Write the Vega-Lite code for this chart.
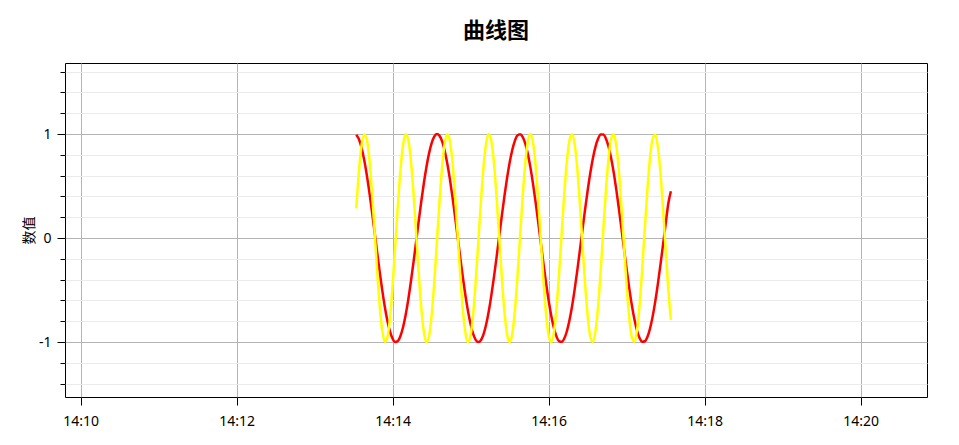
{
  "$schema": "https://vega.github.io/schema/vega-lite/v6.json",
  "width": 862,
  "height": 334,
  "autosize": {"type": "none"},
  "padding": {"left": 65, "top": 63, "right": 32, "bottom": 48},
  "background": "white",
  "title": {"text": "曲线图", "font": "Noto Sans CJK SC", "fontSize": 22, "fontWeight": "bold", "color": "#000", "anchor": "middle", "offset": 20},
  "config": {"view": {"stroke": "#000", "strokeWidth": 1}},
  "data": {"values": [
    {"t": "2024-01-01T14:13:32", "a": 0.994, "b": 0.285},
    {"t": "2024-01-01T14:13:34", "a": 0.952, "b": 0.631},
    {"t": "2024-01-01T14:13:36", "a": 0.873, "b": 0.881},
    {"t": "2024-01-01T14:13:38", "a": 0.759, "b": 0.995},
    {"t": "2024-01-01T14:13:40", "a": 0.616, "b": 0.957},
    {"t": "2024-01-01T14:13:42", "a": 0.449, "b": 0.771},
    {"t": "2024-01-01T14:13:44", "a": 0.264, "b": 0.467},
    {"t": "2024-01-01T14:13:46", "a": 0.069, "b": 0.091},
    {"t": "2024-01-01T14:13:48", "a": -0.128, "b": -0.299},
    {"t": "2024-01-01T14:13:50", "a": -0.321, "b": -0.643},
    {"t": "2024-01-01T14:13:52", "a": -0.501, "b": -0.888},
    {"t": "2024-01-01T14:13:54", "a": -0.662, "b": -0.997},
    {"t": "2024-01-01T14:13:56", "a": -0.797, "b": -0.952},
    {"t": "2024-01-01T14:13:58", "a": -0.900, "b": -0.762},
    {"t": "2024-01-01T14:14:00", "a": -0.968, "b": -0.454},
    {"t": "2024-01-01T14:14:02", "a": -0.999, "b": -0.076},
    {"t": "2024-01-01T14:14:04", "a": -0.990, "b": 0.313},
    {"t": "2024-01-01T14:14:06", "a": -0.942, "b": 0.654},
    {"t": "2024-01-01T14:14:08", "a": -0.858, "b": 0.895},
    {"t": "2024-01-01T14:14:10", "a": -0.740, "b": 0.998},
    {"t": "2024-01-01T14:14:12", "a": -0.593, "b": 0.948},
    {"t": "2024-01-01T14:14:14", "a": -0.422, "b": 0.752},
    {"t": "2024-01-01T14:14:16", "a": -0.236, "b": 0.441},
    {"t": "2024-01-01T14:14:18", "a": -0.040, "b": 0.062},
    {"t": "2024-01-01T14:14:20", "a": 0.158, "b": -0.327},
    {"t": "2024-01-01T14:14:22", "a": 0.349, "b": -0.665},
    {"t": "2024-01-01T14:14:24", "a": 0.527, "b": -0.901},
    {"t": "2024-01-01T14:14:26", "a": 0.684, "b": -0.999},
    {"t": "2024-01-01T14:14:28", "a": 0.814, "b": -0.943},
    {"t": "2024-01-01T14:14:30", "a": 0.913, "b": -0.742},
    {"t": "2024-01-01T14:14:32", "a": 0.975, "b": -0.427},
    {"t": "2024-01-01T14:14:34", "a": 1.000, "b": -0.047},
    {"t": "2024-01-01T14:14:36", "a": 0.985, "b": 0.341},
    {"t": "2024-01-01T14:14:38", "a": 0.932, "b": 0.676},
    {"t": "2024-01-01T14:14:40", "a": 0.842, "b": 0.907},
    {"t": "2024-01-01T14:14:42", "a": 0.719, "b": 0.999},
    {"t": "2024-01-01T14:14:44", "a": 0.569, "b": 0.938},
    {"t": "2024-01-01T14:14:46", "a": 0.396, "b": 0.732},
    {"t": "2024-01-01T14:14:48", "a": 0.207, "b": 0.414},
    {"t": "2024-01-01T14:14:50", "a": 0.010, "b": 0.032},
    {"t": "2024-01-01T14:14:52", "a": -0.187, "b": -0.355},
    {"t": "2024-01-01T14:14:54", "a": -0.377, "b": -0.687},
    {"t": "2024-01-01T14:14:56", "a": -0.552, "b": -0.913},
    {"t": "2024-01-01T14:14:58", "a": -0.705, "b": -1.000},
    {"t": "2024-01-01T14:15:00", "a": -0.831, "b": -0.932},
    {"t": "2024-01-01T14:15:02", "a": -0.924, "b": -0.722},
    {"t": "2024-01-01T14:15:04", "a": -0.981, "b": -0.400},
    {"t": "2024-01-01T14:15:06", "a": -1.000, "b": -0.017},
    {"t": "2024-01-01T14:15:08", "a": -0.980, "b": 0.369},
    {"t": "2024-01-01T14:15:10", "a": -0.921, "b": 0.698},
    {"t": "2024-01-01T14:15:12", "a": -0.826, "b": 0.919},
    {"t": "2024-01-01T14:15:14", "a": -0.699, "b": 1.000},
    {"t": "2024-01-01T14:15:16", "a": -0.544, "b": 0.927},
    {"t": "2024-01-01T14:15:18", "a": -0.368, "b": 0.712},
    {"t": "2024-01-01T14:15:20", "a": -0.178, "b": 0.387},
    {"t": "2024-01-01T14:15:22", "a": 0.019, "b": 0.003},
    {"t": "2024-01-01T14:15:24", "a": 0.216, "b": -0.382},
    {"t": "2024-01-01T14:15:26", "a": 0.404, "b": -0.708},
    {"t": "2024-01-01T14:15:28", "a": 0.576, "b": -0.925},
    {"t": "2024-01-01T14:15:30", "a": 0.726, "b": -1.000},
    {"t": "2024-01-01T14:15:32", "a": 0.847, "b": -0.921},
    {"t": "2024-01-01T14:15:34", "a": 0.935, "b": -0.701},
    {"t": "2024-01-01T14:15:36", "a": 0.987, "b": -0.373},
    {"t": "2024-01-01T14:15:38", "a": 0.999, "b": 0.012},
    {"t": "2024-01-01T14:15:40", "a": 0.973, "b": 0.396},
    {"t": "2024-01-01T14:15:42", "a": 0.909, "b": 0.718},
    {"t": "2024-01-01T14:15:44", "a": 0.809, "b": 0.931},
    {"t": "2024-01-01T14:15:46", "a": 0.677, "b": 1.000},
    {"t": "2024-01-01T14:15:48", "a": 0.519, "b": 0.916},
    {"t": "2024-01-01T14:15:50", "a": 0.341, "b": 0.691},
    {"t": "2024-01-01T14:15:52", "a": 0.149, "b": 0.359},
    {"t": "2024-01-01T14:15:54", "a": -0.049, "b": -0.027},
    {"t": "2024-01-01T14:15:56", "a": -0.245, "b": -0.409},
    {"t": "2024-01-01T14:15:58", "a": -0.431, "b": -0.728},
    {"t": "2024-01-01T14:16:00", "a": -0.600, "b": -0.936},
    {"t": "2024-01-01T14:16:02", "a": -0.746, "b": -0.999},
    {"t": "2024-01-01T14:16:04", "a": -0.862, "b": -0.910},
    {"t": "2024-01-01T14:16:06", "a": -0.945, "b": -0.680},
    {"t": "2024-01-01T14:16:08", "a": -0.991, "b": -0.346},
    {"t": "2024-01-01T14:16:10", "a": -0.998, "b": 0.042},
    {"t": "2024-01-01T14:16:12", "a": -0.966, "b": 0.423},
    {"t": "2024-01-01T14:16:14", "a": -0.896, "b": 0.738},
    {"t": "2024-01-01T14:16:16", "a": -0.791, "b": 0.941},
    {"t": "2024-01-01T14:16:18", "a": -0.655, "b": 0.999},
    {"t": "2024-01-01T14:16:20", "a": -0.493, "b": 0.903},
    {"t": "2024-01-01T14:16:22", "a": -0.313, "b": 0.669},
    {"t": "2024-01-01T14:16:24", "a": -0.119, "b": 0.332},
    {"t": "2024-01-01T14:16:26", "a": 0.079, "b": -0.057},
    {"t": "2024-01-01T14:16:28", "a": 0.273, "b": -0.436},
    {"t": "2024-01-01T14:16:30", "a": 0.457, "b": -0.748},
    {"t": "2024-01-01T14:16:32", "a": 0.623, "b": -0.946},
    {"t": "2024-01-01T14:16:34", "a": 0.765, "b": -0.998},
    {"t": "2024-01-01T14:16:36", "a": 0.877, "b": -0.897},
    {"t": "2024-01-01T14:16:38", "a": 0.954, "b": -0.658},
    {"t": "2024-01-01T14:16:40", "a": 0.995, "b": -0.318},
    {"t": "2024-01-01T14:16:42", "a": 0.996, "b": 0.071},
    {"t": "2024-01-01T14:16:44", "a": 0.958, "b": 0.449},
    {"t": "2024-01-01T14:16:46", "a": 0.883, "b": 0.758},
    {"t": "2024-01-01T14:16:48", "a": 0.773, "b": 0.951},
    {"t": "2024-01-01T14:16:50", "a": 0.633, "b": 0.997},
    {"t": "2024-01-01T14:16:52", "a": 0.468, "b": 0.890},
    {"t": "2024-01-01T14:16:54", "a": 0.284, "b": 0.646},
    {"t": "2024-01-01T14:16:56", "a": 0.090, "b": 0.304},
    {"t": "2024-01-01T14:16:58", "a": -0.108, "b": -0.086},
    {"t": "2024-01-01T14:17:00", "a": -0.302, "b": -0.462},
    {"t": "2024-01-01T14:17:02", "a": -0.483, "b": -0.768},
    {"t": "2024-01-01T14:17:04", "a": -0.646, "b": -0.955},
    {"t": "2024-01-01T14:17:06", "a": -0.784, "b": -0.996},
    {"t": "2024-01-01T14:17:08", "a": -0.891, "b": -0.883},
    {"t": "2024-01-01T14:17:10", "a": -0.963, "b": -0.636},
    {"t": "2024-01-01T14:17:12", "a": -0.997, "b": -0.290},
    {"t": "2024-01-01T14:17:14", "a": -0.992, "b": 0.101},
    {"t": "2024-01-01T14:17:16", "a": -0.949, "b": 0.475},
    {"t": "2024-01-01T14:17:18", "a": -0.868, "b": 0.777},
    {"t": "2024-01-01T14:17:20", "a": -0.753, "b": 0.959},
    {"t": "2024-01-01T14:17:22", "a": -0.609, "b": 0.994},
    {"t": "2024-01-01T14:17:24", "a": -0.441, "b": 0.876},
    {"t": "2024-01-01T14:17:26", "a": -0.256, "b": 0.624},
    {"t": "2024-01-01T14:17:28", "a": -0.060, "b": 0.276},
    {"t": "2024-01-01T14:17:30", "a": 0.137, "b": -0.115},
    {"t": "2024-01-01T14:17:32", "a": 0.330, "b": -0.488},
    {"t": "2024-01-01T14:17:34", "a": 0.450, "b": -0.786}
  ]},
  "encoding": {
    "x": {
      "field": "t", "type": "temporal",
      "scale": {"domain": [
        {"year": 2024, "month": 1, "date": 1, "hours": 14, "minutes": 9, "seconds": 48},
        {"year": 2024, "month": 1, "date": 1, "hours": 14, "minutes": 20, "seconds": 51}
      ]},
      "axis": {
        "title": null, "format": "%H:%M", "values": [
          {"year": 2024, "month": 1, "date": 1, "hours": 14, "minutes": 10},
          {"year": 2024, "month": 1, "date": 1, "hours": 14, "minutes": 12},
          {"year": 2024, "month": 1, "date": 1, "hours": 14, "minutes": 14},
          {"year": 2024, "month": 1, "date": 1, "hours": 14, "minutes": 16},
          {"year": 2024, "month": 1, "date": 1, "hours": 14, "minutes": 18},
          {"year": 2024, "month": 1, "date": 1, "hours": 14, "minutes": 20}
        ],
        "grid": true, "gridColor": "#b4b4b4", "gridWidth": 1, "domain": false,
        "tickColor": "#000", "tickSize": 8, "labelPadding": 9, "labelFlush": false,
        "labelFont": "Noto Sans", "labelFontSize": 14, "labelColor": "#000"
      }
    }
  },
  "resolve": {"axis": {"y": "independent"}},
  "layer": [
    {
      "mark": {"type": "line", "color": "#ff0000", "strokeWidth": 2.5, "interpolate": "monotone"},
      "encoding": {
        "y": {
          "field": "a", "type": "quantitative",
          "scale": {"domain": [-1.528, 1.683], "nice": false, "zero": false},
          "axis": {
            "orient": "left", "title": null,
            "values": [-1.4, -1.2, -0.8, -0.6, -0.4, -0.2, 0.2, 0.4, 0.6, 0.8, 1.2, 1.4, 1.6],
            "labels": false, "domain": false, "grid": true, "gridColor": "#ebebeb",
            "tickColor": "#000", "tickSize": 5
          }
        }
      }
    },
    {
      "mark": {"type": "line", "color": "#ffff00", "strokeWidth": 2.5, "interpolate": "monotone"},
      "encoding": {
        "y": {
          "field": "b", "type": "quantitative",
          "scale": {"domain": [-1.528, 1.683], "nice": false, "zero": false},
          "axis": {
            "orient": "left",
            "title": "数值", "titleFont": "Noto Sans CJK SC", "titleFontSize": 14, "titleFontWeight": "normal", "titleColor": "#000", "titlePadding": 2,
            "values": [-1, 0, 1],
            "labelExpr": "datum.value < 0 ? '-' + abs(datum.value) : '' + datum.value",
            "labelFont": "Noto Sans", "labelFontSize": 14, "labelColor": "#000", "labelPadding": 6,
            "domain": false, "grid": true, "gridColor": "#b4b4b4",
            "tickColor": "#000", "tickSize": 8
          }
        }
      }
    }
  ]
}
